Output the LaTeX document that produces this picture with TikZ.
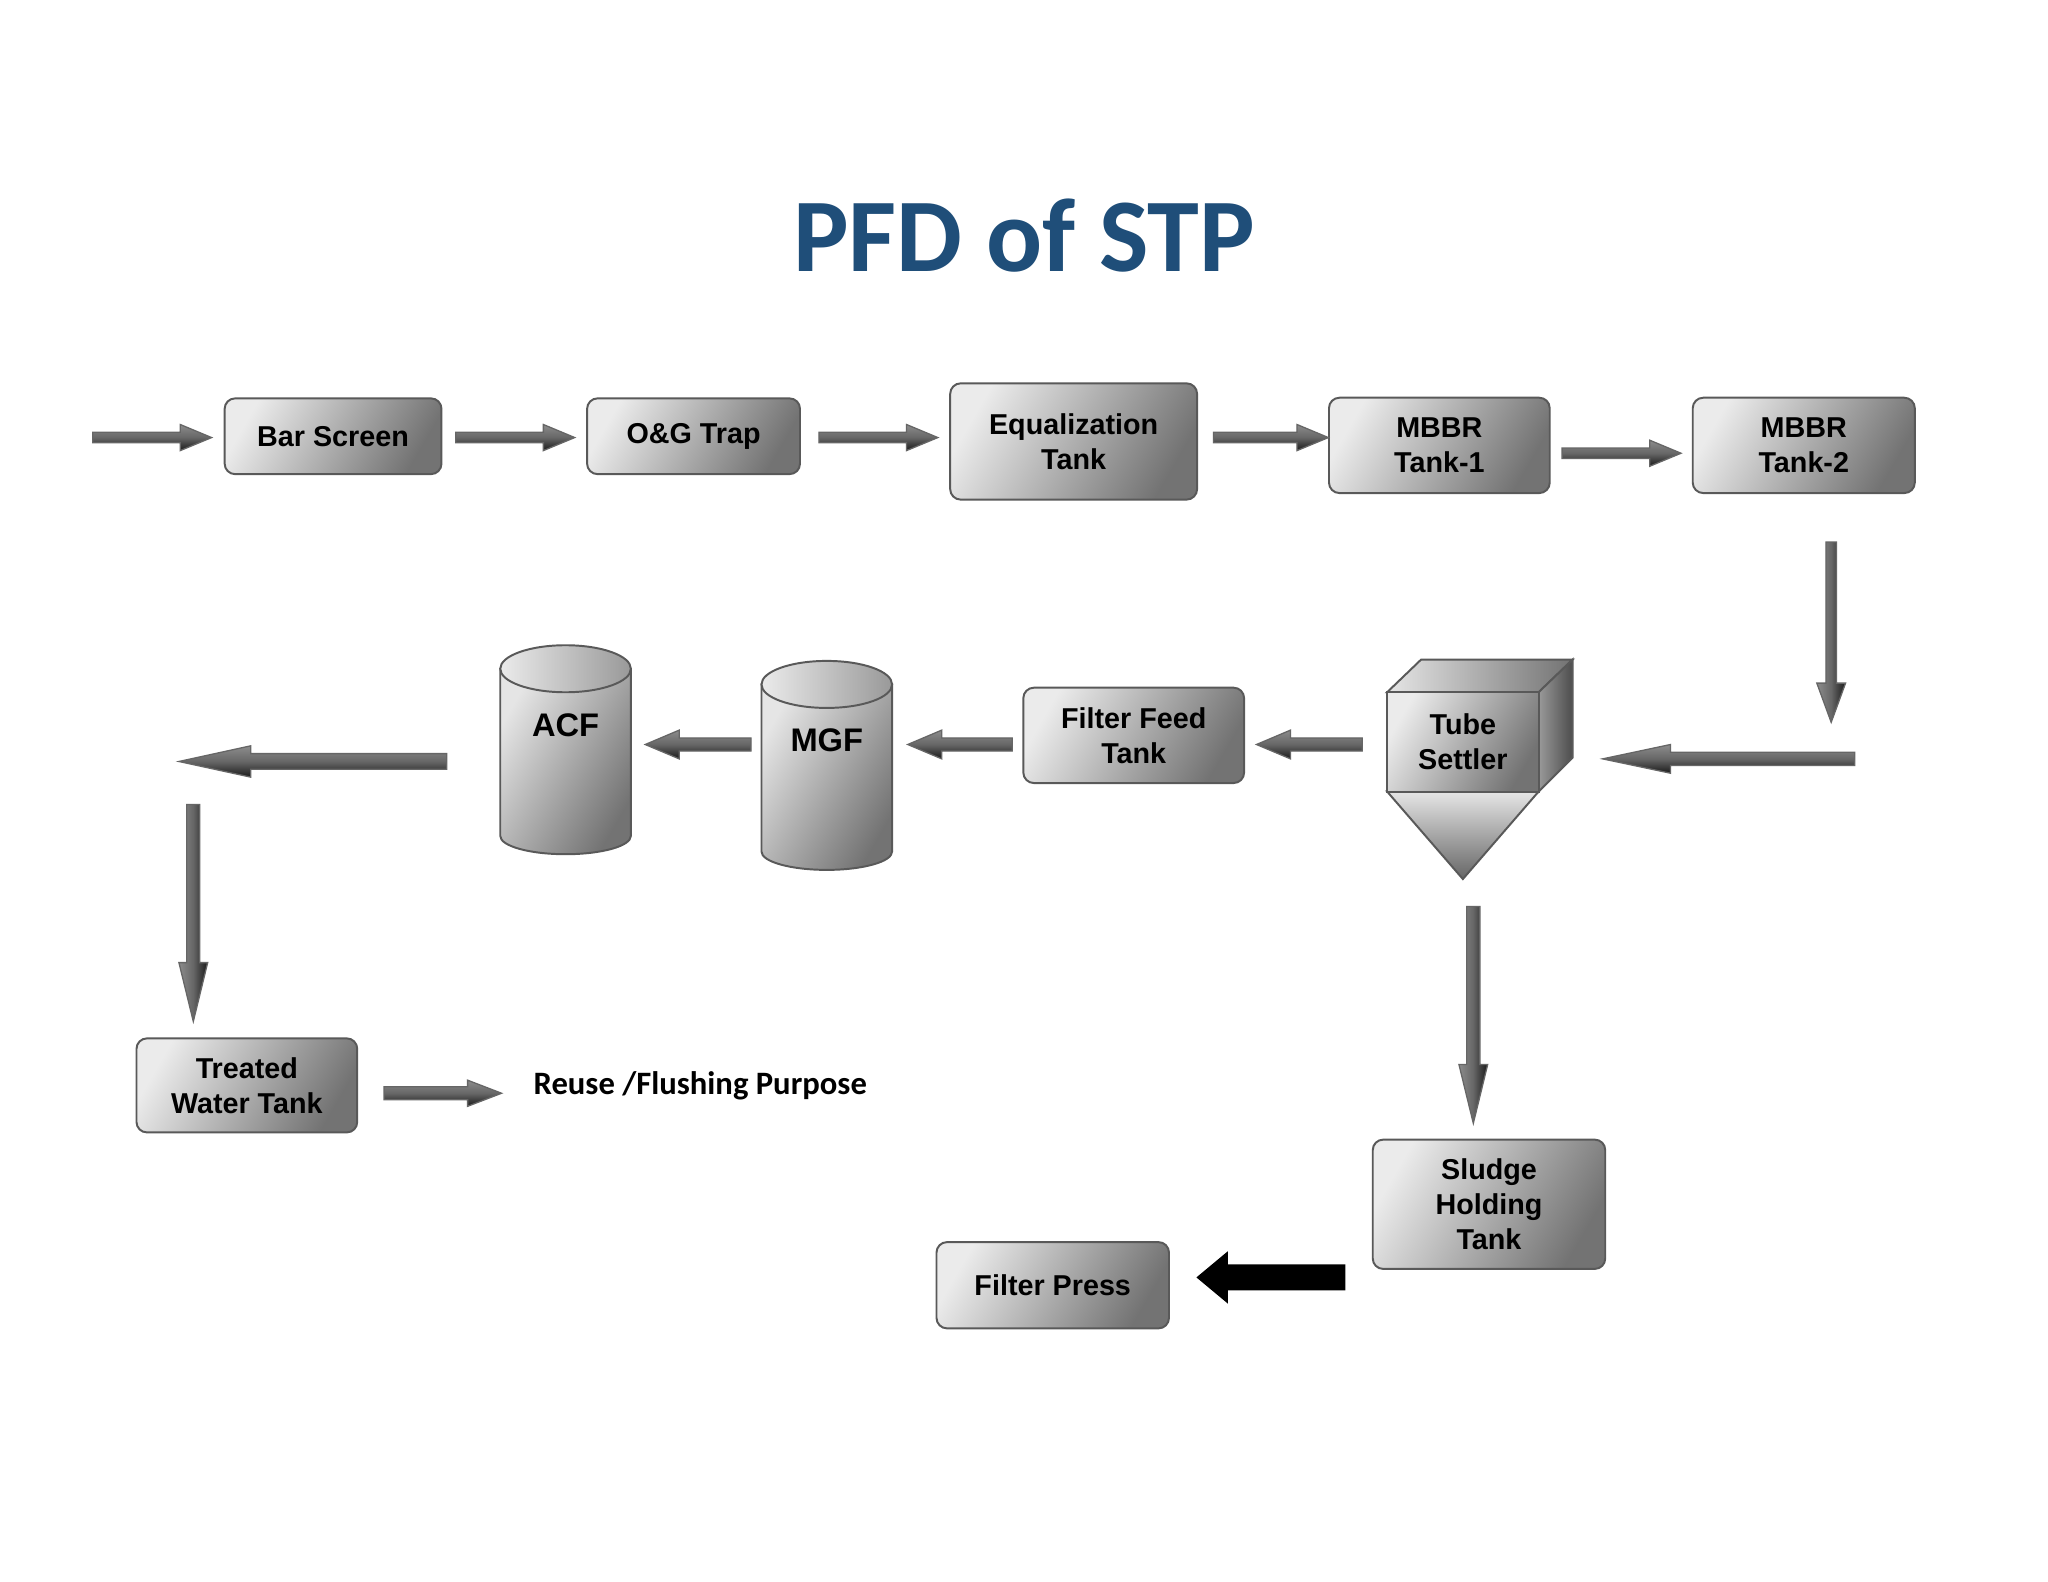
\documentclass[tikz,border=0pt]{standalone}
\usepackage{fontspec}
\setmainfont{Liberation Sans}
\newfontfamily\carfont{Carlito}
\begin{document}
\begin{tikzpicture}[x=1pt,y=-1pt,
  box/.style={draw=black!65,line width=1.5pt,rounded corners=8pt,left color=black!8,right color=black!55,shading angle=60,align=center,font=\bfseries\fontsize{22}{27}\selectfont,inner sep=0pt},
  arr/.style={draw=black!60,line width=1pt,top color=black!45,bottom color=black!90,middle color=black!60}]
\newcommand\harrow[6]{\pgfmathsetmacro\hb{#2>#1 ? #2-#6 : #2+#6}
 \path[arr] (#1,#3-#4) -- (\hb,#3-#4) -- (\hb,#3-#5) -- (#2,#3) -- (\hb,#3+#5) -- (\hb,#3+#4) -- (#1,#3+#4) -- cycle;}
\newcommand\varrow[6]{\pgfmathsetmacro\hb{#2>#1 ? #2-#6 : #2+#6}
 \path[arr,left color=black!45,right color=black!90,middle color=black!60] (#3-#4,#1) -- (#3-#4,\hb) -- (#3-#5,\hb) -- (#3,#2) -- (#3+#5,\hb) -- (#3+#4,\hb) -- (#3+#4,#1) -- cycle;}
\useasboundingbox (0,0) rectangle (1568,1211);
\fill[white] (0,0) rectangle (1568,1211);
\node[font=\carfont\bfseries\fontsize{80}{90}\selectfont] (title) at (784,180) {\textcolor[HTML]{1F4E79}{PFD of STP}};
\node[box,minimum width=166pt,minimum height=58pt] (bar) at (255,334) {Bar Screen};
\node[box,minimum width=163pt,minimum height=58pt] (og) at (531,334) {O\&G Trap};
\node[box,minimum width=189pt,minimum height=89pt] (eq) at (822,338) {Equalization\\Tank};
\node[box,minimum width=169pt,minimum height=73pt] (m1) at (1102,341) {MBBR\\Tank-1};
\node[box,minimum width=170pt,minimum height=73pt] (m2) at (1381,341) {MBBR\\Tank-2};
\node[box,minimum width=169pt,minimum height=73pt] (ff) at (868,563) {Filter Feed\\Tank};
\node[box,minimum width=169pt,minimum height=72pt] (tw) at (189,831) {Treated\\Water Tank};
\node[box,minimum width=178pt,minimum height=99pt] (sh) at (1140,922) {Sludge\\Holding\\Tank};
\node[box,minimum width=178pt,minimum height=66pt] (fp) at (806,984) {Filter Press};
% tube settler
\begin{scope}[draw=black!65,line width=1.5pt]
\path[draw,left color=black!10,right color=black!55] (1062,530) -- (1088,505) -- (1204,505) -- (1178,530) -- cycle;
\path[draw,left color=black!40,right color=black!70] (1178,530) -- (1204,505) -- (1204,580) -- (1178,606) -- cycle;
\path[draw,top color=black!10,bottom color=black!60] (1062,606) -- (1178,606) -- (1120,673) -- cycle;
\node[box,rounded corners=0pt,minimum width=116pt,minimum height=76pt] (ts) at (1120,568) {Tube\\Settler};
\end{scope}
% cylinders
\foreach \nm/\cx/\ty/\by in {ACF/433/512/640, MGF/633/524/652}{
 \path[draw=black!65,line width=1.5pt,left color=black!10,right color=black!55,shading angle=60] (\cx-50,\ty) -- (\cx-50,\by) arc[start angle=180,end angle=360,x radius=50,y radius=-14] -- (\cx+50,\ty) -- cycle;
 \path[draw=black!65,line width=1.5pt,left color=black!8,right color=black!40] (\cx,\ty) ellipse[x radius=50,y radius=18];
 \node[font=\bfseries\fontsize{25}{30}\selectfont] (\nm) at (\cx,\ty+43) {\nm};
}
\node[font=\carfont\bfseries\fontsize{25}{30}\selectfont,anchor=west] (reuse) at (405,831) {Reuse /Flushing Purpose};
% arrows
\harrow{71}{162}{335}{4}{10}{24}
\harrow{349}{440}{335}{4}{10}{24}
\harrow{627}{718}{335}{4}{10}{24}
\harrow{929}{1017}{335}{4}{10}{24}
\harrow{1196}{1287}{347}{4}{10}{24}
\varrow{415}{553}{1402}{4}{11}{30}
\harrow{1420}{1227}{581}{5}{11}{52}
\harrow{1043}{962}{570}{5}{11}{26}
\harrow{775}{695}{570}{5}{11}{26}
\harrow{575}{494}{570}{5}{11}{26}
\harrow{342}{137}{583}{6}{12}{55}
\varrow{616}{782}{148}{5}{11}{45}
\harrow{294}{384}{837}{5}{10}{26}
\varrow{694}{860}{1128}{5}{11}{45}
\path[fill=black] (1030,968) -- (940,968) -- (940,958) -- (916,978) -- (940,998) -- (940,988) -- (1030,988) -- cycle;
\end{tikzpicture}
\end{document}
